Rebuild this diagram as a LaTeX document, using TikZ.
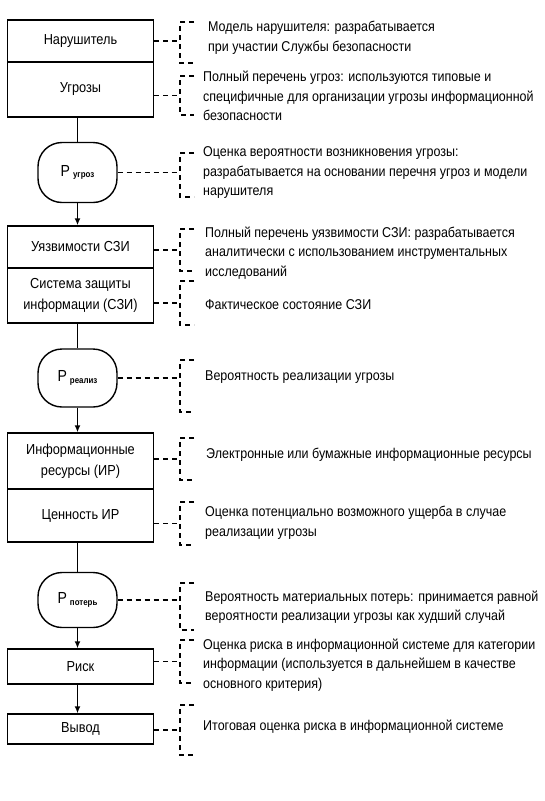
\documentclass[tikz,border=0pt]{standalone}
\usepackage{fontspec}
\setmainfont[FakeStretch=0.88]{Liberation Sans}
\usetikzlibrary{arrows.meta}
\newcommand{\psub}[1]{{\fontsize{16}{16}\selectfont P}\hspace{3pt}\raisebox{-1.5pt}{\fontsize{9}{9}\selectfont\bfseries #1}\hspace{12pt}}
\begin{document}
\begin{tikzpicture}[x=1pt,y=-1pt,
  box/.style={draw, line width=1.4pt, minimum width=146pt, inner sep=0pt, align=center, font=\fontsize{14.5}{21}\selectfont},
  pill/.style={draw, line width=1.4pt, rounded corners=24pt, minimum width=79pt, inner sep=0pt},
  note/.style={anchor=west, align=left, inner sep=0pt, font=\fontsize{14.2}{19.5}\selectfont},
  dashline/.style={line width=1.3pt, dash pattern=on 5pt off 4pt},
  flow/.style={line width=1.4pt},
  arrow/.style={line width=1.4pt, -{Latex[length=7pt,width=6pt]}}]
\useasboundingbox (0,0) rectangle (545,801);
% boxes
\node[box, minimum height=42pt] (b1) at (80.5,41) {Нарушитель};
\node[box, minimum height=55pt] (b2) at (80.5,89.5) {Угрозы};
\node[pill, minimum height=60pt] (p1) at (77.5,172.5) {\psub{угроз}};
\node[box, minimum height=42pt] (b3) at (80.5,247) {Уязвимости СЗИ};
\node[box, minimum height=55pt] (b4) at (80.5,295.5) {Система защиты\\информации (СЗИ)};
\node[pill, minimum height=58pt] (p2) at (77.5,378) {\psub{реализ}};
\node[box, minimum height=56pt] (b5) at (80.5,461) {Информационные\\ресурсы (ИР)};
\node[box, minimum height=53pt] (b6) at (80.5,515.5) {Ценность ИР};
\node[pill, minimum height=55pt] (p3) at (77.5,600) {\psub{потерь}};
\node[box, minimum height=35pt] (b7) at (80.5,666.5) {Риск};
\node[box, minimum height=30pt] (b8) at (80.5,729) {Вывод};
% flow lines
\draw[flow] (p1.north |- b2.south) -- (p1.north);
\draw[arrow] (p1.south) -- (p1.south |- b3.north);
\draw[flow] (p2.north |- b4.south) -- (p2.north);
\draw[arrow] (p2.south) -- (p2.south |- b5.north);
\draw[flow] (p3.north |- b6.south) -- (p3.north);
\draw[arrow] (p3.south) -- (p3.south |- b7.north);
\draw[arrow] (p3.south |- b7.south) -- (p3.south |- b8.north);
% bracket junctions
\coordinate (k1) at (180,41);
\coordinate (k2) at (180,95.5);
\coordinate (k3) at (180,175);
\coordinate (k4) at (180,250);
\coordinate (k5) at (180,303);
\coordinate (k6) at (180,386);
\coordinate (k7) at (180,459);
\coordinate (k8) at (180,523.5);
\coordinate (k9) at (180,606.5);
\coordinate (k10) at (180,661.5);
\coordinate (k11) at (180,730);
\draw[dashline] (b1.east |- k1) -- (k1);
\draw[dashline] (b2.east |- k2) -- (k2);
\draw[dashline] (p1.east) -- (p1.east -| k3);
\draw[dashline] (b3.east |- k4) -- (k4);
\draw[dashline] (b4.east |- k5) -- (k5);
\draw[dashline] (p2.east) -- (p2.east -| k6);
\draw[dashline] (b5.east |- k7) -- (k7);
\draw[dashline] (b6.east |- k8) -- (k8);
\draw[dashline] (p3.east) -- (p3.east -| k9);
\draw[dashline] (b7.east |- k10) -- (k10);
\draw[dashline] (b8.east |- k11) -- (k11);
% brackets
\foreach \t/\b in {22/63, 76/115, 153/197, 229/271, 281/325, 360/412, 438/480, 502/545, 583/630, 640/683, 705/755}
  \draw[dashline] (194,\t) -- (180,\t) -- (180,\b) -- (194,\b);
% notes
\node[note] (n1) at (208,38) {Модель нарушителя: разрабатывается\\при участии Службы безопасности};
\node[note] (n2) at (203,96) {Полный перечень угроз: используются типовые и\\специфичные для организации угрозы информационной\\безопасности};
\node[note] (n3) at (203,173) {Оценка вероятности возникновения угрозы:\\разрабатывается на основании перечня угроз и модели\\нарушителя};
\node[note] (n4) at (205,253) {Полный перечень уязвимости СЗИ: разрабатывается\\аналитически с использованием инструментальных\\исследований};
\node[note] (n5) at (205,305) {Фактическое состояние СЗИ};
\node[note] (n6) at (205,377) {Вероятность реализации угрозы};
\node[note] (n7) at (206,455) {Электронные или бумажные информационные ресурсы};
\node[note] (n8) at (205,523) {Оценка потенциально возможного ущерба в случае\\реализации угрозы};
\node[note] (n9) at (205,607) {Вероятность материальных потерь: принимается равной\\вероятности реализации угрозы как худший случай};
\node[note] (n10) at (203,665) {Оценка риска в информационной системе для категории\\информации (используется в дальнейшем в качестве\\основного критерия)};
\node[note] (n11) at (203,727) {Итоговая оценка риска в информационной системе};
\end{tikzpicture}
\end{document}
